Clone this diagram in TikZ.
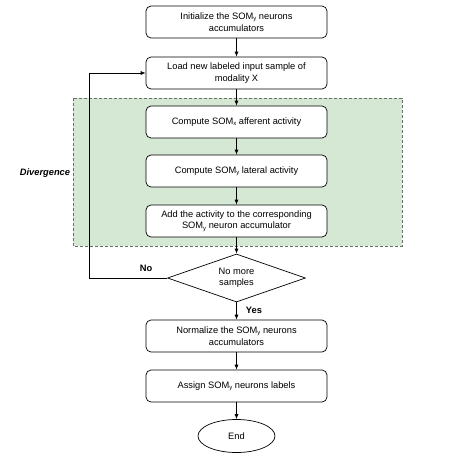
\documentclass[tikz,border=0pt]{standalone}
\usepackage{fontspec}
\setmainfont{Liberation Sans}
\usetikzlibrary{shapes.geometric,arrows.meta}
\definecolor{grfill}{RGB}{213,232,212}
\definecolor{grline}{RGB}{100,112,100}
\newcommand{\subl}[1]{\raisebox{-0.25ex}{\fontsize{6}{6}\selectfont #1}}
\tikzset{
  proc/.style={draw, fill=white, rounded corners=5pt, line width=0.7pt, minimum width=181pt, minimum height=32pt, align=center, font=\fontsize{9.3}{11.5}\selectfont, inner sep=1pt},
  dec/.style={draw, fill=white, diamond, aspect=2.9, line width=0.7pt, minimum width=138pt, minimum height=48pt, inner sep=0pt, align=center, font=\fontsize{9.3}{11.5}\selectfont},
  term/.style={draw, fill=white, ellipse, line width=0.7pt, minimum width=77pt, minimum height=33pt, font=\fontsize{9.3}{11.5}\selectfont},
  conn/.style={draw, line width=0.7pt, -{Latex[length=5pt,width=4pt]}},
  lbl/.style={font=\fontsize{9.3}{11.5}\selectfont\bfseries}
}
\begin{document}
\begin{tikzpicture}[x=1pt,y=-1pt]
\useasboundingbox (0,0) rectangle (474,459);
\fill[white] (0,0) rectangle (474,459);
\draw[grline, fill=grfill, line width=0.7pt, dash pattern=on 3pt off 2pt] (73,98) rectangle (402,246);
\node[proc] (n1) at (236.5,22) {Initialize the SOM\subl{y} neurons\\accumulators};
\node[proc] (n2) at (236.5,73) {Load new labeled input sample of\\modality X};
\node[proc] (n3) at (236.5,122) {Compute SOM\subl{x} afferent activity};
\node[proc] (n4) at (236.5,171) {Compute SOM\subl{y} lateral activity};
\node[proc] (n5) at (236.5,221) {Add the activity to the corresponding\\SOM\subl{y} neuron accumulator};
\node[dec] (d) at (236.5,278) {No more\\samples};
\node[proc] (n6) at (236.5,336) {Normalize the SOM\subl{y} neurons\\accumulators};
\node[proc] (n7) at (236.5,386) {Assign SOM\subl{y} neurons labels};
\node[term] (e) at (236.5,436) {End};
\node[lbl, font=\fontsize{9.3}{11.5}\selectfont\bfseries\itshape] (dv) at (45,173) {Divergence};
\node[lbl] (no) at (146,268) {No};
\node[lbl] (yes) at (254,310) {Yes};
\coordinate (c1) at (89,278);
\coordinate (c2) at (89,73);
\draw[conn] (n1) -- (n2);
\draw[conn] (n2) -- (n3);
\draw[conn] (n3) -- (n4);
\draw[conn] (n4) -- (n5);
\draw[conn] (n5) -- (d);
\draw[conn] (d) -- (n6);
\draw[conn] (n6) -- (n7);
\draw[conn] (n7) -- (e);
\draw[conn] (d.west) -- (c1) -- (c2) -- (n2.west);
\end{tikzpicture}
\end{document}
